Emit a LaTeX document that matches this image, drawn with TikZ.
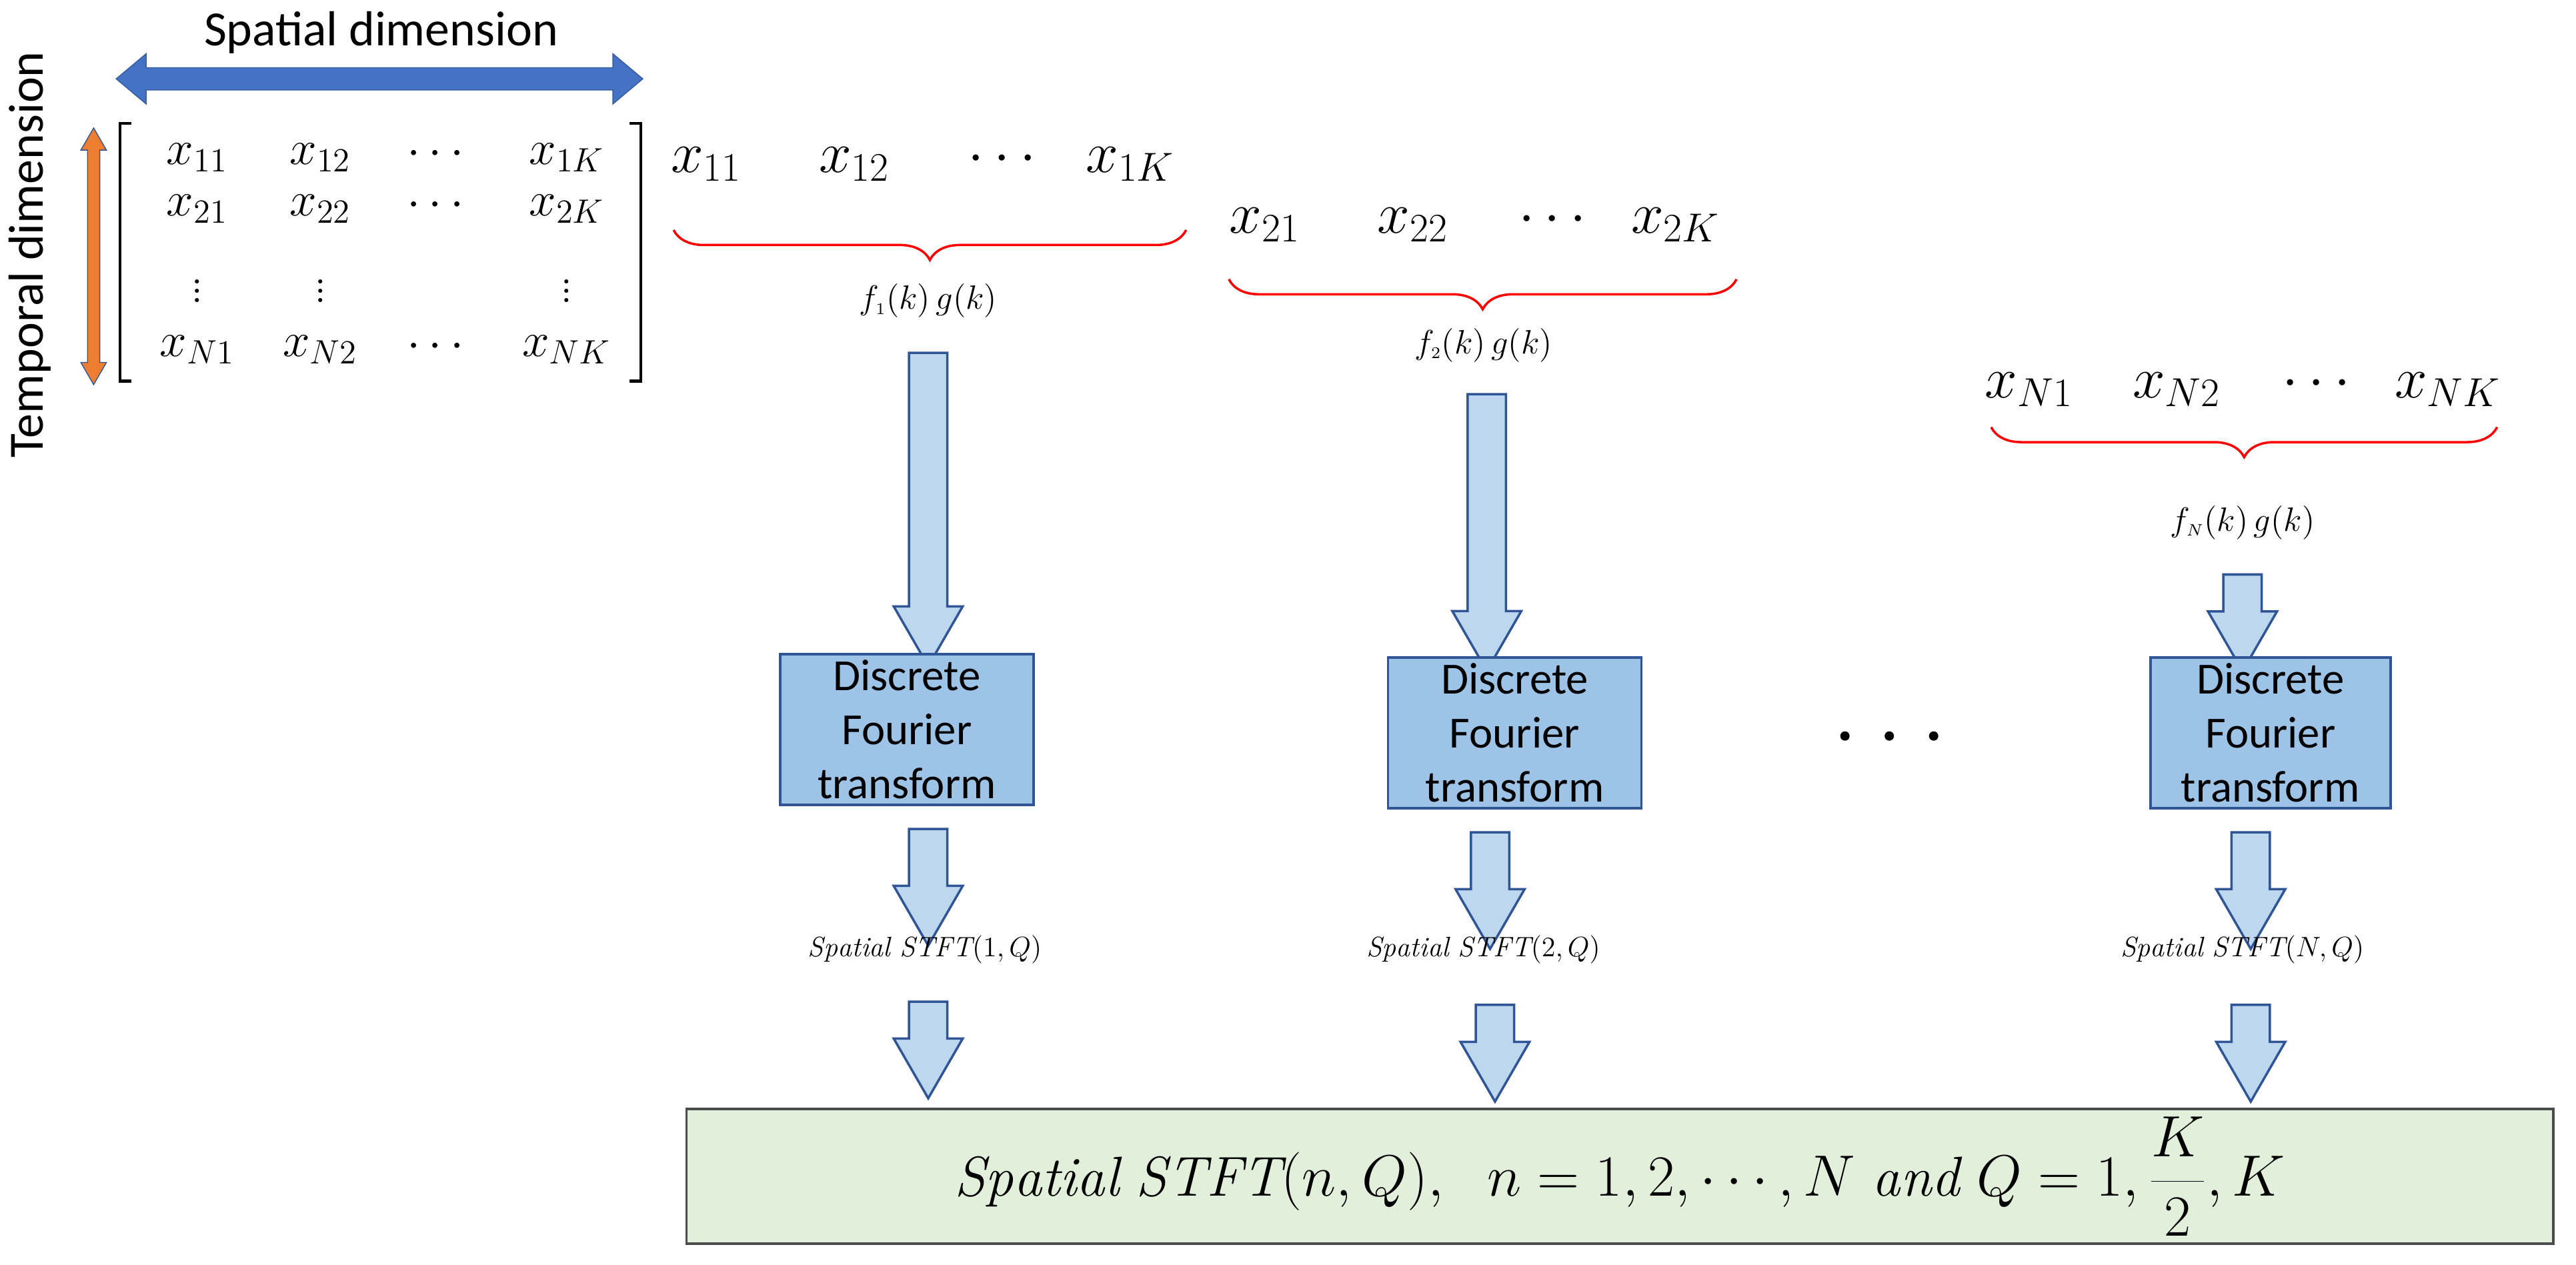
\documentclass[tikz,border=0pt]{standalone}
\usepackage{fontspec}
\newfontfamily\sansf{Carlito}
\usetikzlibrary{shapes.arrows,decorations.pathreplacing}
\definecolor{lblue}{HTML}{BDD7EE}
\definecolor{dblue}{HTML}{2F5597}
\definecolor{boxblue}{HTML}{9DC3E6}
\definecolor{gbox}{HTML}{E2EFDA}
\definecolor{sblue}{HTML}{4472C4}
\definecolor{orng}{HTML}{ED7D31}
\begin{document}
\begin{tikzpicture}[x=0.02464cm,y=-0.02464cm,
  barrow/.style={single arrow, draw=dblue, fill=lblue, line width=1pt, minimum width=1.0cm,
     single arrow head extend=0.23cm, single arrow tip angle=60, inner xsep=0pt, inner ysep=0.27cm, rotate=-90, anchor=center},
  dft/.style={draw=dblue, fill=boxblue, line width=1pt, minimum width=3.8cm, minimum height=2.26cm,
     align=center, font=\sansf\fontsize{19}{23}\selectfont, inner sep=2pt},
  xrow/.style={font=\fontsize{26}{30}\selectfont},
  xm/.style={font=\fontsize{21}{25}\selectfont},
  flab/.style={font=\fontsize{15}{18}\selectfont},
  slab/.style={font=\fontsize{12}{14}\selectfont},
  rbrace/.style={draw=red, line width=1pt, decorate, decoration={brace,mirror,amplitude=0.45cm}}]
\useasboundingbox (0,0) rectangle (1568,770);
% dimensions
\node[font=\sansf\fontsize{21}{25}\selectfont] (sd) at (232,20) {Spatial dimension};
\node[double arrow, fill=sblue, draw=sblue!80!black, minimum width=0.74cm, double arrow head extend=0.21cm,
  double arrow tip angle=80, minimum height=7.9cm, inner xsep=0pt, inner ysep=0.16cm] (ha) at (231,48) {};
\node[double arrow, fill=orng, draw=dblue, minimum width=0.36cm, double arrow head extend=0.1cm,
  double arrow tip angle=60, minimum height=3.85cm, inner xsep=0pt, inner ysep=0.085cm, rotate=90] (va) at (57,156) {};
\node[font=\sansf\fontsize{21}{25}\selectfont, rotate=90] (td) at (18,155) {Temporal dimension};
% matrix
\draw[line width=1.2pt] (80,75) -- (73,75) -- (73,232) -- (80,232);
\draw[line width=1.2pt] (383,75) -- (390,75) -- (390,232) -- (383,232);
\node[xm] (m11) at (120,96) {$x_{11}$};
\node[xm] (m12) at (195,96) {$x_{12}$};
\node[xm] (m13) at (265,94) {$\cdots$};
\node[xm] (m14) at (345,96) {$x_{1K}$};
\node[xm] (m21) at (120,127) {$x_{21}$};
\node[xm] (m22) at (195,127) {$x_{22}$};
\node[xm] (m23) at (265,125) {$\cdots$};
\node[xm] (m24) at (345,127) {$x_{2K}$};
\node[xm] (m31) at (120,173) {$\vdots$};
\node[xm] (m32) at (195,173) {$\vdots$};
\node[xm] (m34) at (345,173) {$\vdots$};
\node[xm] (m41) at (120,213) {$x_{N1}$};
\node[xm] (m42) at (195,213) {$x_{N2}$};
\node[xm] (m43) at (265,211) {$\cdots$};
\node[xm] (m44) at (345,213) {$x_{NK}$};
% row 1
\node[xrow] (r11) at (430,100) {$x_{11}$};
\node[xrow] (r12) at (520,100) {$x_{12}$};
\node[xrow] (r13) at (610,97) {$\cdots$};
\node[xrow] (r14) at (688,100) {$x_{1K}$};
\coordinate (b1l) at (410,140); \coordinate (b1r) at (722,140);
\draw[rbrace] (b1l) -- (b1r);
\node[flab] (f1) at (565,183) {$f_{\scriptscriptstyle 1}(k)\,g(k)$};
% row 2
\node[xrow] (r21) at (770,137) {$x_{21}$};
\node[xrow] (r22) at (860,137) {$x_{22}$};
\node[xrow] (r23) at (945,134) {$\cdots$};
\node[xrow] (r24) at (1020,137) {$x_{2K}$};
\coordinate (b2l) at (748,170); \coordinate (b2r) at (1057,170);
\draw[rbrace] (b2l) -- (b2r);
\node[flab] (f2) at (903,210) {$f_{\scriptscriptstyle 2}(k)\,g(k)$};
% row N
\node[xrow] (rN1) at (1235,237) {$x_{N1}$};
\node[xrow] (rN2) at (1325,237) {$x_{N2}$};
\node[xrow] (rN3) at (1410,234) {$\cdots$};
\node[xrow] (rN4) at (1490,237) {$x_{NK}$};
\coordinate (bNl) at (1212,260); \coordinate (bNr) at (1520,260);
\draw[rbrace] (bNl) -- (bNr);
\node[flab] (fN) at (1365,318) {$f_{\scriptscriptstyle N}(k)\,g(k)$};
% arrows to DFT
\node[barrow, minimum height=4.7cm] (a1) at (565,300) {};
\node[barrow, minimum height=4.15cm] (a2) at (905,314) {};
\node[barrow, minimum height=1.45cm] (aN) at (1365,369) {};
% DFT boxes
\node[dft] (d1) at (552,444) {Discrete\\Fourier\\transform};
\node[dft] (d2) at (922,446) {Discrete\\Fourier\\transform};
\node[dft, minimum width=3.6cm] (dN) at (1382,446) {Discrete\\Fourier\\transform};
\foreach \i/\xx in {1/1123,2/1150,3/1177}{\fill (\xx,448) circle (0.07cm);}
% arrows after DFT
\node[barrow, minimum height=1.75cm] (c1) at (565,530) {};
\node[barrow, minimum height=1.75cm] (c2) at (907,532) {};
\node[barrow, minimum height=1.75cm] (cN) at (1370,532) {};
\node[slab] (s1) at (563,578) {$\mathit{Spatial\ STFT}(1,Q)$};
\node[slab] (s2) at (903,578) {$\mathit{Spatial\ STFT}(2,Q)$};
\node[slab] (sN) at (1365,578) {$\mathit{Spatial\ STFT}(N,Q)$};
\node[barrow, minimum height=1.45cm] (e1) at (565,629) {};
\node[barrow, minimum height=1.45cm] (e2) at (910,631) {};
\node[barrow, minimum height=1.45cm] (eN) at (1370,631) {};
% bottom box
\node[draw=black!70, fill=gbox, line width=1pt, minimum width=28.0cm, minimum height=1.9cm,
  font=\fontsize{24}{28}\selectfont] (bot) at (986,716)
  {$\displaystyle\mathit{Spatial\ STFT}(n,Q),\ \ n=1,2,\cdots,N\ \mathit{and}\ Q=1,\frac{K}{2},K$};
\end{tikzpicture}
\end{document}
